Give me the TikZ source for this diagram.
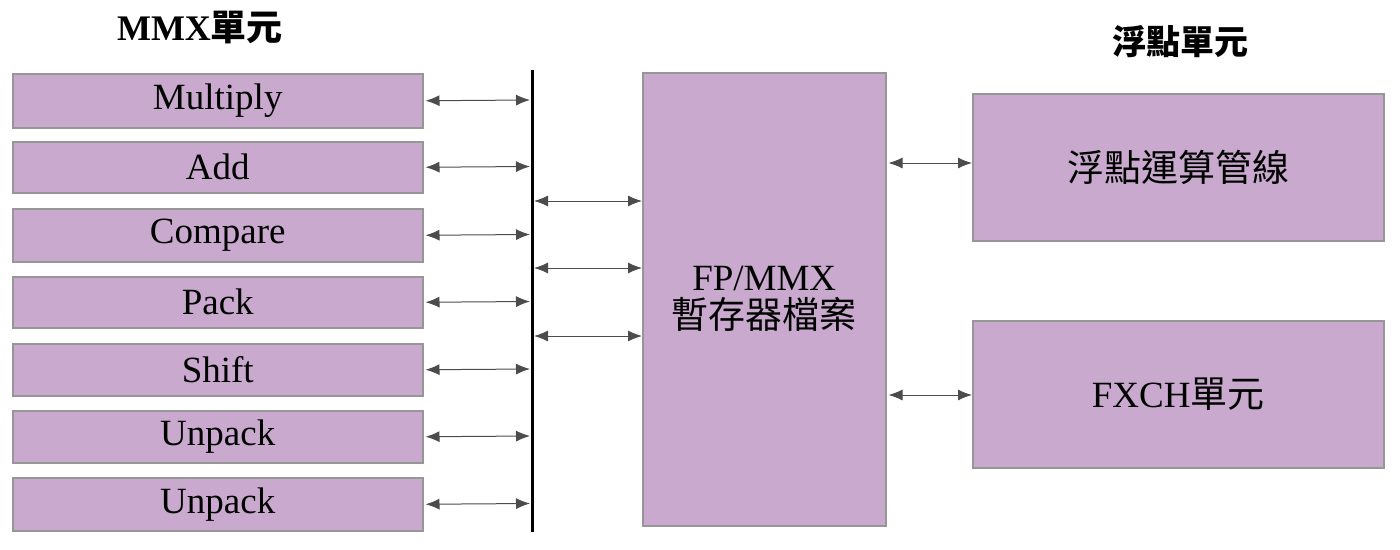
\documentclass[tikz,border=0pt]{standalone}
\usepackage{fontspec}
\setmainfont{Liberation Serif}
\newfontfamily\cjk{Noto Sans CJK TC}
\usetikzlibrary{arrows.meta}
\definecolor{boxfill}{RGB}{201,170,206}
\definecolor{boxline}{RGB}{150,150,150}
\begin{document}
\begin{tikzpicture}[x=1pt,y=-1pt,
  box/.style={draw=boxline,line width=1.5pt,fill=boxfill,inner sep=0pt},
  lbl/.style={font=\fontsize{37}{40}\selectfont},
  arr/.style={{Latex[length=14pt,width=11pt]}-{Latex[length=14pt,width=11pt]},line width=1pt,draw=black!70}]
\useasboundingbox (0,0) rectangle (1400,549);
\foreach \n/\t/\b/\s in {a/73/127/Multiply,b/141/192/Add,c/208/261/Compare,d/276/327/Pack,e/343/395/Shift,f/410/462/Unpack/Boolean,g/477/530/Unpack/Boolean}{
  \node[box,lbl,minimum width=410pt,minimum height={\b-\t},anchor=north west] (\n) at (12,\t) {\s};
  \coordinate (bus\n) at (530,{(\t+\b)/2});
  \draw[arr] (\n.east) ++(2,0) -- (bus\n);
}
\coordinate (bt) at (532,70); \coordinate (bb) at (532,532);
\draw[line width=3pt] (bt) -- (bb);
\node[box,minimum width=243pt,minimum height=453pt,anchor=north west] (m) at (642,72) {};
\node[lbl,align=center] (mt) at (m.center) {FP/MMX\\[-2pt]{\cjk 暫存器檔案}};
\foreach \y/\k in {201/1,268/2,336/3}{
  \coordinate (bl\k) at (534,\y);
  \draw[arr] (bl\k) -- (m.west |- bl\k);
}
\node[box,lbl,minimum width=411pt,minimum height=147pt,anchor=north west] (r1) at (972,93) {\cjk 浮點運算管線};
\node[box,lbl,minimum width=411pt,minimum height=147pt,anchor=north west] (r2) at (972,320) {FXCH{\cjk 單元}};
\draw[arr] (m.east |- 0,163) ++(2,0) -- (r1.west |- 0,163);
\draw[arr] (m.east |- 0,395) ++(2,0) -- (r2.west |- 0,395);
\node[font=\fontsize{36}{40}\selectfont\bfseries] (t1) at (200,28) {MMX{\cjk\bfseries 單元}};
\node[font=\fontsize{34}{40}\selectfont\cjk\bfseries] (t2) at (1180,42) {浮點單元};
\end{tikzpicture}
\end{document}
